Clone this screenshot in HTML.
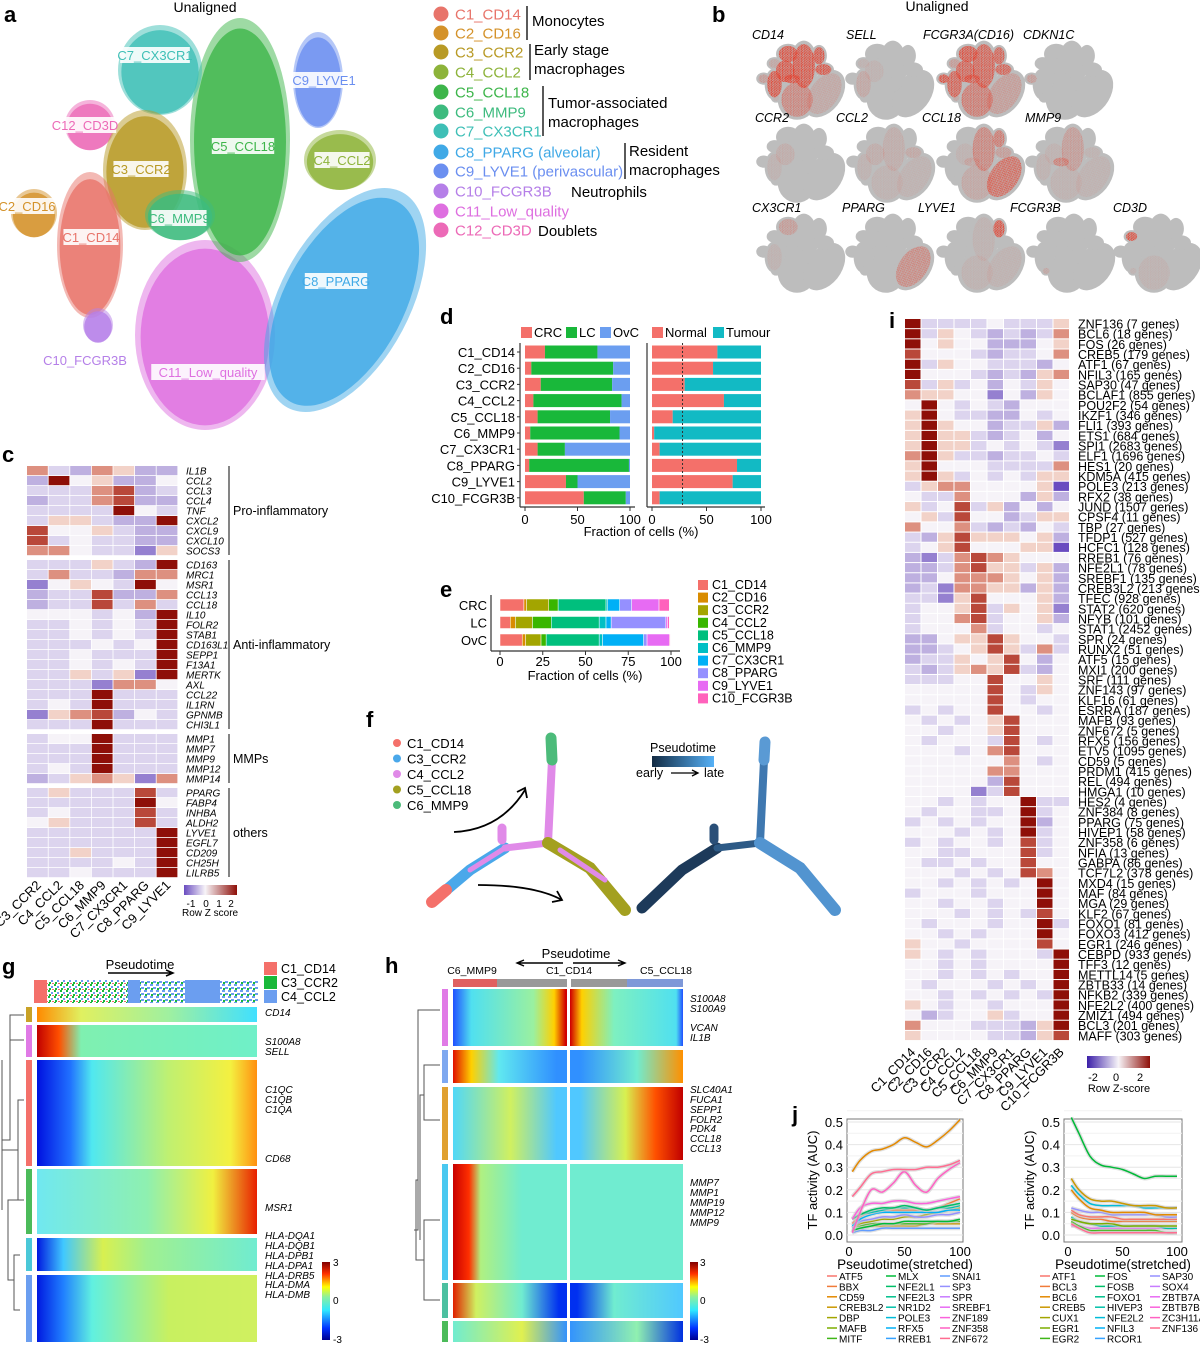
<!DOCTYPE html>
<html><head><meta charset="utf-8">
<style>
html,body{margin:0;padding:0;background:#fff;}
svg{display:block;font-family:"Liberation Sans",Arial,sans-serif;}
.it{font-style:italic;}
</style></head>
<body>
<svg id="fig" width="1200" height="1345" viewBox="0 0 1200 1345" xmlns="http://www.w3.org/2000/svg">
<defs>
<linearGradient id="ptime" x1="0" x2="1" y1="0" y2="0"><stop offset="0" stop-color="#132b43"/><stop offset="1" stop-color="#56b1f7"/></linearGradient>
<linearGradient id="jetv" x1="0" x2="0" y1="1" y2="0"><stop offset="0" stop-color="#00008f"/><stop offset="0.15" stop-color="#0030ff"/><stop offset="0.38" stop-color="#2ee8ff"/><stop offset="0.55" stop-color="#8af0a0"/><stop offset="0.68" stop-color="#ffff00"/><stop offset="0.85" stop-color="#ff3000"/><stop offset="1" stop-color="#800000"/></linearGradient>
<linearGradient id="zbar" x1="0" x2="1"><stop offset="0" stop-color="#3b1fa8"/><stop offset="0.5" stop-color="#f7f4f8"/><stop offset="1" stop-color="#8e0f08"/></linearGradient>
<linearGradient id="zbarc" x1="0" x2="1"><stop offset="0" stop-color="#6a4cc0"/><stop offset="0.4" stop-color="#f7f4f8"/><stop offset="1" stop-color="#8e0f08"/></linearGradient>
<linearGradient id="g1"><stop offset="0" stop-color="#ff8a00"/><stop offset="0.2" stop-color="#e0f060"/><stop offset="0.6" stop-color="#9ff0a0"/><stop offset="1" stop-color="#40e0ff"/></linearGradient>
<linearGradient id="g2"><stop offset="0" stop-color="#c00000"/><stop offset="0.1" stop-color="#ff5000"/><stop offset="0.2" stop-color="#7ff0b0"/><stop offset="1" stop-color="#6ff0c8"/></linearGradient>
<linearGradient id="g3"><stop offset="0" stop-color="#0010e0"/><stop offset="0.15" stop-color="#2070ff"/><stop offset="0.25" stop-color="#50e8f0"/><stop offset="0.6" stop-color="#c0f070"/><stop offset="0.88" stop-color="#f4f040"/><stop offset="1" stop-color="#ff9010"/></linearGradient>
<linearGradient id="g4"><stop offset="0" stop-color="#70e8f0"/><stop offset="0.5" stop-color="#8ef0b0"/><stop offset="0.8" stop-color="#f0f040"/><stop offset="1" stop-color="#e82000"/></linearGradient>
<linearGradient id="g5"><stop offset="0" stop-color="#0018e0"/><stop offset="0.12" stop-color="#40c8ff"/><stop offset="0.3" stop-color="#d8f050"/><stop offset="0.5" stop-color="#a0f090"/><stop offset="1" stop-color="#70ecd0"/></linearGradient>
<linearGradient id="g6"><stop offset="0" stop-color="#0018e0"/><stop offset="0.12" stop-color="#2080ff"/><stop offset="0.25" stop-color="#60f0e0"/><stop offset="0.6" stop-color="#c8f060"/><stop offset="1" stop-color="#d0f060"/></linearGradient>
<linearGradient id="h1"><stop offset="0" stop-color="#2050ff"/><stop offset="0.08" stop-color="#50e0f0"/><stop offset="0.35" stop-color="#9af0a0"/><stop offset="0.44" stop-color="#ffd000"/><stop offset="0.49" stop-color="#d00000"/><stop offset="0.51" stop-color="#d00000"/><stop offset="0.56" stop-color="#ffd000"/><stop offset="0.7" stop-color="#7ef0c0"/><stop offset="0.97" stop-color="#50e0f0"/><stop offset="1" stop-color="#2050ff"/></linearGradient>
<linearGradient id="h2"><stop offset="0" stop-color="#e01000"/><stop offset="0.08" stop-color="#ffd000"/><stop offset="0.2" stop-color="#60e8f0"/><stop offset="0.45" stop-color="#3090ff"/><stop offset="0.55" stop-color="#3090ff"/><stop offset="0.8" stop-color="#70ecd0"/><stop offset="1" stop-color="#ff9000"/></linearGradient>
<linearGradient id="h3"><stop offset="0" stop-color="#50d8f8"/><stop offset="0.25" stop-color="#d0f060"/><stop offset="0.45" stop-color="#50c8ff"/><stop offset="0.55" stop-color="#50c8ff"/><stop offset="0.75" stop-color="#d8f050"/><stop offset="0.88" stop-color="#ff5000"/><stop offset="1" stop-color="#c00000"/></linearGradient>
<linearGradient id="h4"><stop offset="0" stop-color="#c80000"/><stop offset="0.07" stop-color="#ff3000"/><stop offset="0.12" stop-color="#b0f080"/><stop offset="0.3" stop-color="#70ecd0"/><stop offset="1" stop-color="#70ecd0"/></linearGradient>
<linearGradient id="h5"><stop offset="0" stop-color="#e02000"/><stop offset="0.1" stop-color="#d0f060"/><stop offset="0.3" stop-color="#70ecd0"/><stop offset="0.46" stop-color="#0030f0"/><stop offset="0.54" stop-color="#0030f0"/><stop offset="0.7" stop-color="#70ecd0"/><stop offset="1" stop-color="#50c8ff"/></linearGradient>
<linearGradient id="h6"><stop offset="0" stop-color="#70ecd0"/><stop offset="0.3" stop-color="#e0f050"/><stop offset="0.5" stop-color="#3090ff"/><stop offset="0.8" stop-color="#90f0b0"/><stop offset="1" stop-color="#0030e0"/></linearGradient>
<pattern id="speck" width="6" height="6" patternUnits="userSpaceOnUse"><rect width="6" height="6" fill="#fff"/><rect x="0" y="0" width="2" height="2" fill="#19b83a"/><rect x="3" y="2" width="2" height="2" fill="#6b9ef0"/><rect x="1" y="4" width="2" height="2" fill="#19b83a"/><rect x="4" y="5" width="2" height="1" fill="#f4706a"/></pattern>
<pattern id="speckb" width="6" height="6" patternUnits="userSpaceOnUse"><rect width="6" height="6" fill="#fff"/><rect x="0" y="0" width="3" height="2" fill="#6b9ef0"/><rect x="3" y="3" width="3" height="2" fill="#6b9ef0"/><rect x="1" y="4" width="2" height="2" fill="#19b83a"/></pattern>
<pattern id="redspeck" width="14" height="14" patternUnits="userSpaceOnUse"><circle cx="3" cy="3" r="3.2" fill="#e8321e"/><circle cx="10" cy="6" r="3" fill="#e8321e"/><circle cx="5" cy="11" r="3" fill="#e8321e"/><circle cx="12" cy="12" r="2.5" fill="#e8321e"/></pattern>
</defs>

<g font-weight="bold" font-size="22">
<text x="4" y="22">a</text><text x="712" y="22">b</text><text x="2" y="462">c</text><text x="440" y="324">d</text>
<text x="440" y="597">e</text><text x="366" y="727">f</text><text x="2" y="974">g</text><text x="385" y="973">h</text>
<text x="889" y="328">i</text><text x="792" y="1122">j</text>
</g>
<text x="205" y="12" font-size="14" text-anchor="middle">Unaligned</text>
<text x="937" y="11" font-size="14" text-anchor="middle">Unaligned</text>

<g id="pa"></g>
<g id="pal"></g>
<g id="pb"></g>
<g id="pc"></g>
<g id="pd"></g>
<g id="pe"></g>
<g id="pf"></g>
<g id="pg"></g>
<g id="ph"></g>
<g id="pi"></g>
<g id="pj"></g>
</svg>
<script>
const NS="http://www.w3.org/2000/svg";
function E(tag,attrs,parent,txt){const e=document.createElementNS(NS,tag);for(const k in attrs)e.setAttribute(k,attrs[k]);if(txt!==undefined)e.textContent=txt;parent.appendChild(e);return e;}
const $=id=>document.getElementById(id);

/* ---------- panel a ---------- */
const clusterNames=["C1_CD14","C2_CD16","C3_CCR2","C4_CCL2","C5_CCL18","C6_MMP9","C7_CX3CR1","C8_PPARG (alveolar)","C9_LYVE1 (perivascular)","C10_FCGR3B","C11_Low_quality","C12_CD3D"];
const clusterColors=["#e8746a","#d4922a","#b89a25","#8db33a","#3db54a","#3dbb7e","#3ebfb6","#40a9e6","#6b8ff0","#b57fe8","#de6fe0","#ec6ab7"];
const blobs=[[10,205,335,70,95,0],[7,345,300,65,122,28],[4,240,140,50,122,0],[6,160,70,42,45,0],[8,318,80,25,48,0],[11,90,125,25,25,0],[2,145,170,42,60,0],[3,340,160,36,30,0],[1,34,213,23,24,0],[0,90,245,33,73,0],[5,180,215,35,25,0],[9,98,325,15,17,0]];
const blobLabels=[[6,"C7_CX3CR1",155,55],[8,"C9_LYVE1",324,80],[11,"C12_CD3D",85,125],[4,"C5_CCL18",243,146],[3,"C4_CCL2",342,160],[2,"C3_CCR2",141,169],[1,"C2_CD16",27,206],[5,"C6_MMP9",179,218],[0,"C1_CD14",91,237],[7,"C8_PPARG",336,281],[9,"C10_FCGR3B",85,360],[10,"C11_Low_quality",208,372]];
(function(){
 const g=$("pa");
 blobs.forEach(b=>{
  const c=clusterColors[b[0]];
  let e=E("ellipse",{cx:b[1],cy:b[2],rx:b[3],ry:b[4],fill:c,"fill-opacity":0.5,transform:`rotate(${b[5]} ${b[1]} ${b[2]})`},g);
  
  
  let d=E("ellipse",{cx:b[1],cy:b[2]+2,rx:b[3]*0.92,ry:b[4]*0.93,fill:c,"fill-opacity":0.8,transform:`rotate(${b[5]} ${b[1]} ${b[2]})`},g);
  
  
 });
 blobLabels.forEach(l=>{
  const w=l[1].length*7.3+4;
  let r=E("rect",{x:l[2]-w/2,y:l[3]-8,width:w,height:16,fill:"#fff","fill-opacity":0.9},g);
  
  
  let t=E("text",{x:l[2],y:l[3]+5,"font-size":13,"text-anchor":"middle",fill:clusterColors[l[0]]},g,l[1]);
  
  
 });
 const lg=$("pal");
 const ys=[14,33,52,72,92,112,131,152,171,191,211,230];
 clusterNames.forEach((n,i)=>{
  let c=E("circle",{cx:441,cy:ys[i],r:7.5,fill:clusterColors[i]},lg);
  
  
  let t=E("text",{x:455,y:ys[i]+5.5,"font-size":15,fill:clusterColors[i]},lg,n);
  
  
 });
 const brackets=[[527,6,40,[["Monocytes",532,26]]],[530,44,80,[["Early stage",534,55],["macrophages",534,74]]],[543,86,136,[["Tumor-associated",548,108],["macrophages",548,127]]],[625,143,179,[["Resident",629,156],["macrophages",629,175]]]];
 brackets.forEach(b=>{
  let l=E("line",{x1:b[0],x2:b[0],y1:b[1],y2:b[2],stroke:"#000","stroke-width":1.3},lg);
  
  
  b[3].forEach(s=>{let t=E("text",{x:s[1],y:s[2],"font-size":15},lg,s[0]);});
 });
 let t1=E("text",{x:571,y:197,"font-size":15},lg,"Neutrophils");
 let t2=E("text",{x:538,y:236,"font-size":15},lg,"Doublets");
})();

/* ---------- panel b ---------- */
const featGenes=["CD14","SELL","FCGR3A(CD16)","CDKN1C","CCR2","CCL2","CCL18","MMP9","CX3CR1","PPARG","LYVE1","FCGR3B","CD3D"];
const featPos=[[755,40],[844,40],[935,40],[1023,40],[755,123],[845,123],[935,123],[1024,123],[755,213],[844,213],[935,213],[1025,213],[1112,213]];
const featLabelX=[752,846,923,1023,755,836,922,1025,752,842,918,1010,1113];
const featExpr=[
 [0.9,0.3,0.9,0.9,0.9,0.9,0.9,0.2,0.9,0.1,0.5,0.2],
 [0.2,0,0.1,0,0,0,0,0,0,0,0,0.1],
 [0.8,1,0.8,0.8,0.8,0.8,0.9,0.3,0.8,0.2,0.6,0.3],
 [0,0.3,0,0,0,0,0,0,0,0,0,0],
 [0.1,0,0.15,0,0,0,0,0,0,0,0,0],
 [0.1,0,0.15,0.2,0.15,0,0,0.1,0,0,0.1,0],
 [0,0,0.1,0.3,0.5,0.2,0,0.7,0.6,0,0.2,0],
 [0.1,0,0.1,0.1,0.3,0.5,0,0.1,0,0,0.1,0],
 [0.1,0,0,0,0,0,0.3,0,0,0,0,0],
 [0,0,0,0,0,0,0,0.45,0,0,0,0],
 [0,0,0,0,0.1,0,0,0.1,1,0,0.1,0],
 [0,0,0,0,0,0,0,0,0,0.2,0,0],
 [0,0,0,0,0,0,0,0,0,0.1,0.1,0.9]];
(function(){
 const g=$("pb");
 featGenes.forEach((gn,k)=>{
  const [bx,by]=featPos[k];
  const sg=E("g",{transform:`translate(${bx+2} ${by+2}) scale(0.195 0.172)`},g);
  
  
  blobs.forEach(b=>{
   let e=E("ellipse",{cx:b[1],cy:b[2],rx:b[3]*1.3+8,ry:b[4]*1.15+8,fill:"#bdbdbd",transform:`rotate(${b[5]} ${b[1]} ${b[2]})`},sg);
   
   
  });
  blobs.forEach(b=>{
   const v=featExpr[k][b[0]]; if(!v)return;
   let e=E("ellipse",{cx:b[1],cy:b[2],rx:b[3]*1.15,ry:b[4]*1.05,fill:"url(#redspeck)","fill-opacity":Math.min(1,v*1.1),transform:`rotate(${b[5]} ${b[1]} ${b[2]})`},sg);
   
   
  });
  let t=E("text",{x:featLabelX[k],y:featPos[k][1]-1,"font-size":12.5,class:"it"},g,gn);
  
  
 });
})();

const zpal=["#6a4cc0","#9580d0","#beb0e0","#dcd4ee","#f6f3f8","#f2d2c8","#dd9080","#b9483a","#8e0f08"];

/* ---------- panel c ---------- */
const cCols=["C3_CCR2","C4_CCL2","C5_CCL18","C6_MMP9","C7_CX3CR1","C8_PPARG","C9_LYVE1"];
const cGroups=["Pro-inflammatory","Anti-inflammatory","MMPs","others"];
const cGenes=[["IL1B","CCL2","CCL3","CCL4","TNF","CXCL2","CXCL9","CXCL10","SOCS3"],
 ["CD163","MRC1","MSR1","CCL13","CCL18","IL10","FOLR2","STAB1","CD163L1","SEPP1","F13A1","MERTK","AXL","CCL22","IL1RN","GPNMB","CHI3L1"],
 ["MMP1","MMP7","MMP9","MMP12","MMP14"],
 ["PPARG","FABP4","INHBA","ALDH2","LYVE1","EGFL7","CD209","CH25H","LILRB5"]];
const cVals=[["6326522","2845224","3336723","2336722","3333843","3553228","7445322","7343322","6643315"],
 ["3335328","3633266","1454384","2337226","2337363","4443428","3343438","3343438","3334348","3343338","3343438","3353518","3331664","3338333","3438333","1567243","3338333"],
 ["3448333","3338333","3338333","3438333","2356516"],
 ["3533373","3333384","3433373","4533373","3333338","3333338","3353338","3333438","3343338"]];
(function(){
 const g=$("pc");
 const x0=27,cw=21.6,rh=10;
 const gy=[466,560,734,788];
 cGroups.forEach((gr,gi)=>{
  cGenes[gi].forEach((gn,ri)=>{
   const y=gy[gi]+ri*rh;
   for(let ci=0;ci<cCols.length;ci++){
    const v=+cVals[gi][ri][ci];
    let r=E("rect",{x:x0+ci*cw,y:y,width:cw-0.8,height:rh-0.8,fill:zpal[v]},g);
    
    
   }
   let t=E("text",{x:186,y:y+8.5,"font-size":10,class:"it"},g,gn);
   
   
  });
  const y1=gy[gi],y2=gy[gi]+cGenes[gi].length*rh;
  let l=E("line",{x1:229,x2:229,y1:y1,y2:y2-1,stroke:"#333","stroke-width":1.2},g);
  
  
  let t=E("text",{x:233,y:(y1+y2)/2+4,"font-size":12.5},g,gr);
  
  
 });
 cCols.forEach((c,ci)=>{
  const cx=x0+ci*cw+cw/2+4, cy=886;
  let t=E("text",{x:cx,y:cy,"font-size":13,"text-anchor":"end",transform:`rotate(-45 ${cx} ${cy})`},g,c);
  
  
 });
 let cb=E("rect",{x:184,y:885,width:53,height:10,fill:"url(#zbarc)"},g);
 
 
 [["-1",191],["0",206],["1",219],["2",231]].forEach(a=>{let t=E("text",{x:a[1],y:907,"font-size":10,"text-anchor":"middle"},g,a[0]);});
 let ct=E("text",{x:182,y:916,"font-size":10},g,"Row Z score");
 
 
})();

/* ---------- panel d ---------- */
const dCats=["C1_CD14","C2_CD16","C3_CCR2","C4_CCL2","C5_CCL18","C6_MMP9","C7_CX3CR1","C8_PPARG","C9_LYVE1","C10_FCGR3B"];
const dCRC=[19,6,15,8,12,5,12,4,39,56];
const dLC=[50,78,68,84,69,85,26,95,11,40];
const dOvC=[31,16,17,8,19,10,62,1,50,4];
const dNormal=[60,56,30,66,19,2,7,78,74,7];
const dTicks=[0,50,100];
(function(){
 const g=$("pd");
 const xL=v=>525+v*1.05, xR=v=>652+v*1.09, yC=i=>352+i*16.2;
 dCats.forEach((c,i)=>{
  const y=yC(i)-6.5;
  let acc=0;
  [[dCRC,"#f4706a"],[dLC,"#19b83a"],[dOvC,"#6b9ef0"]].forEach(s=>{
   let r=E("rect",{x:xL(acc),y:y,width:xL(acc+s[0][i])-xL(acc),height:13,fill:s[1]},g);
   
   
   acc+=s[0][i];
  });
  let r1=E("rect",{x:xR(0),y:y,width:xR(dNormal[i])-xR(0),height:13,fill:"#f4706a"},g);
  
  
  let r2=E("rect",{x:xR(dNormal[i]),y:y,width:xR(100)-xR(dNormal[i]),height:13,fill:"#12bac4"},g);
  
  
  let t=E("text",{x:515,y:yC(i)+5,"font-size":13,"text-anchor":"end"},g,c);
  
  
  let tk=E("line",{x1:517,x2:520,y1:yC(i),y2:yC(i),stroke:"#333"},g);
  
  
 });
 let dl=E("line",{x1:xR(28),x2:xR(28),y1:343,y2:506,stroke:"#333","stroke-dasharray":"2,2"},g);
 
 
 [[520,343,520,507],[520,507,635,507],[647,507,765,507],[647,343,647,507]].forEach(a=>{let l=E("line",{x1:a[0],y1:a[1],x2:a[2],y2:a[3],stroke:"#333","stroke-width":1.2},g);});
 dTicks.forEach(v=>{
  [xL(v),xR(v)].forEach(x=>{
   let l=E("line",{x1:x,x2:x,y1:507,y2:511,stroke:"#333"},g);
   let t=E("text",{x:x,y:524,"font-size":13,"text-anchor":"middle"},g,String(v));
  });
 });
 let xt=E("text",{x:641,y:536,"font-size":13,"text-anchor":"middle"},g,"Fraction of cells (%)");
 
 
 [["CRC","#f4706a",521],["LC","#19b83a",566],["OvC","#6b9ef0",600],["Normal","#f4706a",652],["Tumour","#12bac4",713]].forEach(a=>{
  let r=E("rect",{x:a[2],y:327,width:11,height:11,fill:a[1]},g);
  let t=E("text",{x:a[2]+13,y:337,"font-size":13},g,a[0]);
 });
})();

/* ---------- panel e ---------- */
const eCats=["CRC","LC","OvC"];
const eClusters=["C1_CD14","C2_CD16","C3_CCR2","C4_CCL2","C5_CCL18","C6_MMP9","C7_CX3CR1","C8_PPARG","C9_LYVE1","C10_FCGR3B"];
const eCRC=[14,1.5,13,5.5,28,1,7,7,16,6];
const eLC=[6,3,10,11,28,4,3,32,1,1];
const eOvC=[13,2,9,3,31,2,24,2,13,0.5];
const eTicks=[0,25,50,75,100];
const eColors=["#f4706a","#d98c00","#a3a500","#39b600","#00bf7d","#00bfc4","#00b0f6","#9590ff","#e76bf3","#ff62bc"];
(function(){
 const g=$("pe");
 const x=v=>500+v*1.71, yC=i=>605+i*17.5;
 [eCRC,eLC,eOvC].forEach((row,i)=>{
  let acc=0;
  row.forEach((v,k)=>{
   let r=E("rect",{x:x(acc),y:yC(i)-6,width:x(acc+v)-x(acc),height:12,fill:eColors[k],stroke:"#fff","stroke-width":0.5},g);
   
   
   acc+=v;
  });
  let t=E("text",{x:487,y:yC(i)+5,"font-size":13,"text-anchor":"end"},g,eCats[i]);
  
  
 });
 [[491,595,491,651],[491,651,680,651]].forEach(a=>{let l=E("line",{x1:a[0],y1:a[1],x2:a[2],y2:a[3],stroke:"#333","stroke-width":1.2},g);});
 eTicks.forEach(v=>{
  let l=E("line",{x1:x(v),x2:x(v),y1:651,y2:655,stroke:"#333"},g);
  let t=E("text",{x:x(v),y:666,"font-size":13,"text-anchor":"middle"},g,String(v));
 });
 let xt=E("text",{x:585,y:680,"font-size":13,"text-anchor":"middle"},g,"Fraction of cells (%)");
 
 
 eClusters.forEach((c,k)=>{
  let r=E("rect",{x:698,y:580+k*12.6,width:10,height:10,fill:eColors[k]},g);
  let t=E("text",{x:712,y:589+k*12.6,"font-size":12.5},g,c);
 });
})();

/* ---------- panel f ---------- */
(function(){
 const g=$("pf");
 const legend=[["C1_CD14","#f4706a"],["C3_CCR2","#4aa8ea"],["C4_CCL2","#e08ae8"],["C5_CCL18","#a3a020"],["C6_MMP9","#4cbb7a"]];
 legend.forEach((a,i)=>{
  let c=E("circle",{cx:397,cy:743+i*15.5,r:4,fill:a[1]},g);
  let t=E("text",{x:407,y:748+i*15.5,"font-size":13},g,a[0]);
 });
 const segs=[["M432 902 L470 870 L505 848","#4aa8ea",11],["M432 902 L446 890","#f4706a",12],["M470 870 L505 848","#e08ae8",5],["M505 848 L548 843","#e08ae8",7],["M548 843 L552 760","#e08ae8",8],["M552 760 L551 738","#4cbb7a",11],["M548 843 L590 868 L625 910","#a3a020",12],["M560 850 L605 880","#e08ae8",5],["M502 840 L502 828","#e08ae8",9]];
 segs.forEach(s=>{let p=E("path",{d:s[0],stroke:s[1],"stroke-width":s[2],fill:"none","stroke-linecap":"round"},g);});
 const segs2=[["M642 908 L682 870 L717 848","#1d3a5a",11],["M717 848 L760 843","#2d5a86",7],["M760 843 L764 760","#3f78b0",8],["M764 760 L765 742","#5a9ad4",11],["M760 843 L800 868 L835 910","#5294d0",12],["M714 840 L714 828","#2a4f78",9]];
 segs2.forEach(s=>{let p=E("path",{d:s[0],stroke:s[1],"stroke-width":s[2],fill:"none","stroke-linecap":"round"},g);});
 [["M454 832 Q500 830 525 790","M517 792 L525 788 L527 798"],["M478 885 Q535 885 562 900","M552 902 L562 900 L557 891"]].forEach(a=>{
  let p=E("path",{d:a[0],stroke:"#000","stroke-width":1.8,fill:"none"},g);
  let h=E("path",{d:a[1],stroke:"#000","stroke-width":1.8,fill:"none"},g);
 });
 let pt=E("text",{x:683,y:752,"font-size":12.5,"text-anchor":"middle"},g,"Pseudotime");
 let cb=E("rect",{x:652,y:756,width:62,height:11,fill:"url(#ptime)"},g);
 let e1=E("text",{x:636,y:777,"font-size":12.5},g,"early");
 let e2=E("text",{x:704,y:777,"font-size":12.5},g,"late");
 let ar=E("path",{d:"M671 773 L697 773 M692 770 L698 773 L692 776",stroke:"#000","stroke-width":1.3,fill:"none"},g);
})();

/* ---------- panel g ---------- */
const gBands=[["g1",1007,1022,"#c9a227"],["g2",1025,1057,"#e07ae6"],["g3",1060,1166,"#f4706a"],["g4",1169,1234,"#4cbb5a"],["g5",1238,1271,"#4ac8d8"],["g6",1275,1342,"#6b9ef0"]];
const gGenes=[["CD14",1012],["S100A8",1041],["SELL",1051],["C1QC",1089],["C1QB",1099],["C1QA",1109],["CD68",1158],["MSR1",1207],["HLA-DQA1",1235],["HLA-DQB1",1245],["HLA-DPB1",1255],["HLA-DPA1",1265],["HLA-DRB5",1275],["HLA-DMA",1284],["HLA-DMB",1294]];
(function(){
 const g=$("pg");
 let a1=E("rect",{x:34,y:980,width:13,height:23,fill:"#f4706a"},g);
 let a2=E("rect",{x:47,y:980,width:80,height:23,fill:"url(#speck)"},g);
 let a3=E("rect",{x:127,y:980,width:131,height:23,fill:"url(#speckb)"},g);
 let a4=E("rect",{x:128,y:980,width:12,height:23,fill:"#6b9ef0"},g);
 let a5=E("rect",{x:185,y:980,width:35,height:23,fill:"#6b9ef0"},g);
 let pt=E("text",{x:140,y:969,"font-size":13,"text-anchor":"middle"},g,"Pseudotime");
 let pa=E("path",{d:"M108 973 L172 973 M166 970 L173 973 L166 976",stroke:"#000","stroke-width":1.5,fill:"none"},g);
 [["C1_CD14","#f4706a",962],["C3_CCR2","#19b83a",976],["C4_CCL2","#6b9ef0",990]].forEach(a=>{
  let r=E("rect",{x:264,y:a[2],width:13,height:13,fill:a[1]},g);
  let t=E("text",{x:281,y:a[2]+11,"font-size":12.5},g,a[0]);
 });
 gBands.forEach(b=>{
  let r=E("rect",{x:37,y:b[1],width:220,height:b[2]-b[1],fill:`url(#${b[0]})`},g);
  let s=E("rect",{x:26,y:b[1],width:6,height:b[2]-b[1],fill:b[3]},g);
 });
 let dg=E("path",{d:"M24 1015 H10 V1140 H2 V1140 M10 1040 H24 M2 1140 V1140 M24 1100 H18 V1200 H24 M18 1150 H2 M2 1060 V1210 M20 1255 H14 V1310 H20 M14 1280 H8 V1200 H18 M8 1200",stroke:"#555","stroke-width":1,fill:"none"},g);
 
 gGenes.forEach(a=>{
  let t=E("text",{x:265,y:a[1]+4,"font-size":10,class:"it"},g,a[0]);
 });
 let cb=E("rect",{x:322,y:1262,width:8,height:78,fill:"url(#jetv)"},g);
 [["3",1266],["0",1304],["-3",1343]].forEach(a=>{let t=E("text",{x:333,y:a[1],"font-size":10},g,a[0]);});
})();

/* ---------- panel h ---------- */
const hBands=[["h1",989,1046,"#e07ae6"],["h2",1050,1083,"#7ea8f0"],["h3",1087,1160,"#e0a030"],["h4",1164,1280,"#4ac8f0"],["h5",1283,1318,"#4cc0a0"],["h6",1321,1342,"#4cbb5a"]];
const hGenes=[["S100A8",998],["S100A9",1008],["VCAN",1027],["IL1B",1037],["SLC40A1",1089],["FUCA1",1099],["SEPP1",1109],["FOLR2",1119],["PDK4",1128],["CCL18",1138],["CCL13",1148],["MMP7",1182],["MMP1",1192],["MMP19",1202],["MMP12",1212],["MMP9",1222]];
(function(){
 const g=$("ph");
 let pt=E("text",{x:576,y:958,"font-size":13,"text-anchor":"middle"},g,"Pseudotime");
 let pa=E("path",{d:"M517 963 L563 963 M524 960 L517 963 L524 966 M573 963 L625 963 M618 960 L625 963 L618 966",stroke:"#000","stroke-width":1.4,fill:"none"},g);
 [["C6_MMP9",472],["C1_CD14",569],["C5_CCL18",666]].forEach(a=>{let t=E("text",{x:a[1],y:974,"font-size":10.5,"text-anchor":"middle"},g,a[0]);});
 [[453,44,"#e06060"],[497,70,"#999"],[571,56,"#999"],[627,56,"#7e98d8"]].forEach(a=>{let r=E("rect",{x:a[0],y:979,width:a[1],height:8,fill:a[2]},g);});
 hBands.forEach(b=>{
  let r=E("rect",{x:453,y:b[1],width:230,height:b[2]-b[1],fill:`url(#${b[0]})`},g);
  let s=E("rect",{x:442,y:b[1],width:6,height:b[2]-b[1],fill:b[3]},g);
 });
 let vl=E("rect",{x:567,y:989,width:3,height:353,fill:"#fff"},g);
 let dg=E("path",{d:"M440 1010 H418 V1230 H414 M440 1065 H424 V1120 H440 M424 1095 H420 V1240 M440 1220 H424 V1300 H440 M424 1260 H416 V1180 H418",stroke:"#555","stroke-width":1,fill:"none"},g);
 
 hGenes.forEach(a=>{
  let t=E("text",{x:690,y:a[1]+4,"font-size":10,class:"it"},g,a[0]);
 });
 let cb=E("rect",{x:690,y:1262,width:8,height:78,fill:"url(#jetv)"},g);
 [["3",1266],["0",1304],["-3",1343]].forEach(a=>{let t=E("text",{x:700,y:a[1],"font-size":10},g,a[0]);});
})();

/* ---------- panel i ---------- */
const iCols=["C1_CD14","C2_CD16","C3_CCR2","C4_CCL2","C5_CCL18","C6_MMP9","C7_CX3CR1","C8_PPARG","C9_LYVE1","C10_FCGR3B"];
const iRows=["ZNF136 (7 genes)","BCL6 (18 genes)","FOS (26 genes)","CREB5 (179 genes)","ATF1 (67 genes)","NFIL3 (165 genes)","SAP30 (47 genes)","BCLAF1 (855 genes)","POU2F2 (54 genes)","IKZF1 (346 genes)","FLI1 (393 genes)","ETS1 (684 genes)","SPI1 (2683 genes)","ELF1 (1696 genes)","HES1 (20 genes)","KDM5A (415 genes)","POLE3 (213 genes)","RFX2 (38 genes)","JUND (1507 genes)","CPSF4 (11 genes)","TBP (27 genes)","TFDP1 (527 genes)","HCFC1 (128 genes)","RREB1 (76 genes)","NFE2L1 (78 genes)","SREBF1 (135 genes)","CREB3L2 (213 genes)","TFEC (928 genes)","STAT2 (620 genes)","NFYB (101 genes)","STAT1 (2452 genes)","SPR (24 genes)","RUNX2 (51 genes)","ATF5 (15 genes)","MXI1 (200 genes)","SRF (111 genes)","ZNF143 (97 genes)","KLF16 (61 genes)","ESRRA (187 genes)","MAFB (93 genes)","ZNF672 (5 genes)","RFX5 (156 genes)","ETV5 (1095 genes)","CD59 (5 genes)","PRDM1 (415 genes)","REL (494 genes)","HMGA1 (10 genes)","HES2 (4 genes)","ZNF384 (8 genes)","PPARG (75 genes)","HIVEP1 (58 genes)","ZNF358 (6 genes)","NFIA (13 genes)","GABPA (86 genes)","TCF7L2 (378 genes)","MXD4 (15 genes)","MAF (84 genes)","MGA (29 genes)","KLF2 (67 genes)","FOXO1 (81 genes)","FOXO3 (412 genes)","EGR1 (246 genes)","CEBPD (933 genes)","TFF3 (12 genes)","METTL14 (5 genes)","ZBTB33 (14 genes)","NFKB2 (339 genes)","NFE2L2 (400 genes)","ZMIZ1 (494 genes)","BCL3 (201 genes)","MAFF (303 genes)"];
const iVals=["8333343335","8354323236","8454422245","7444323346","8354433324","8444323256","7353424354","6554414254",
"4843432444","5843322434","5854423352","5855323424","5855343431","6853323343","5844433336","5853434355","3566444450",
"4336444252","5347352424","4537442355","6446323243","3257555452","3457444550","2136765444","2236755352","2246665452","2316655252","3315744452","3445735451","3446734452","3444634434","2245575443","2234575363","2335457424","3235657324","3334474454","4444474354","4444474344","3434474434",
"4343457444","4434457444","4344437434","4443467444","4444446434","4444466444","4444427444","4444137444",
"4434344833","4344334834","3434344824","4443434834","3434434734","4433444734","4334344744","4443434764",
"4434343484","3444344484","4434434484","4443434374","4344434483","4434344484","5443444474",
"5434344438","4434344448","4434343448","4344434348","4434343438","5434434448","4234453448","6444333258","5444433257"];
(function(){
 const g=$("pi");
 const x0=905,cw=16.5,y0=319,rh=10.17;
 iRows.forEach((rn,ri)=>{
  for(let ci=0;ci<iCols.length;ci++){
   const v=+iVals[ri][ci];
   let r=E("rect",{x:x0+ci*cw,y:y0+ri*rh,width:cw-1,height:rh-1,fill:zpal[v]},g);
   
   
  }
  let t=E("text",{x:1078,y:y0+ri*rh+9.5,"font-size":12.5},g,rn);
  
  
 });
 iCols.forEach((c,ci)=>{
  const cx=x0+ci*cw+cw/2+3, cy=1053;
  let t=E("text",{x:cx,y:cy,"font-size":13,"text-anchor":"end",transform:`rotate(-45 ${cx} ${cy})`},g,c);
  
  
 });
 let cb=E("rect",{x:1087,y:1056,width:63,height:12,fill:"url(#zbar)"},g);
 [["-2",1093],["0",1116],["2",1140]].forEach(a=>{let t=E("text",{x:a[1],y:1081,"font-size":11,"text-anchor":"middle"},g,a[0]);});
 let ct=E("text",{x:1119,y:1092,"font-size":11,"text-anchor":"middle"},g,"Row Z-score");
})();

/* ---------- panel j ---------- */
const jX=[0,10,20,30,40,50,60,70,80,90,100];
const jYTicks=[0,0.1,0.2,0.3,0.4,0.5];
const jXTicks=[0,50,100];
const jLeftNames=["ATF5","BBX","CD59","CREB3L2","DBP","MAFB","MITF","MLX","NFE2L1","NFE2L3","NR1D2","POLE3","RFX5","RREB1","SNAI1","SP3","SPR","SREBF1","ZNF189","ZNF358","ZNF672"];
const jLeftColors=["#f8766d","#f07b3a","#e38900","#c99800","#a3a500","#7cae00","#3fb618","#00ba38","#00be67","#00c08b","#00c1a9","#00bcd8","#00b0f6","#35a2ff","#619cff","#9590ff","#c77cff","#e76bf3","#fa62db","#ff61c3","#ff6c91"];
const jLeftCD59=[0.28,0.33,0.37,0.38,0.40,0.43,0.41,0.39,0.42,0.46,0.51];
const jLeftZNF672=[0.17,0.21,0.27,0.28,0.29,0.29,0.29,0.30,0.30,0.31,0.33];
const jLeftZNF358=[0.01,0.10,0.20,0.19,0.23,0.28,0.22,0.19,0.25,0.29,0.32];
const jLeftZNF189=[0.07,0.12,0.14,0.14,0.15,0.15,0.14,0.14,0.15,0.16,0.17];
const jLeftNFE2L1=[0.07,0.09,0.11,0.12,0.12,0.13,0.12,0.11,0.12,0.13,0.14];
const jLeftNR1D2=[0.07,0.09,0.10,0.11,0.12,0.12,0.12,0.11,0.12,0.12,0.13];
const jLeftRFX5=[0.04,0.07,0.09,0.10,0.10,0.10,0.10,0.10,0.10,0.11,0.11];
const jLeftBBX=[0.05,0.08,0.10,0.11,0.11,0.11,0.11,0.11,0.12,0.14,0.16];
const jLeftSP3=[0.03,0.06,0.07,0.08,0.08,0.09,0.08,0.08,0.09,0.09,0.10];
const jLeftDBP=[0.03,0.05,0.06,0.07,0.07,0.08,0.08,0.09,0.10,0.11,0.12];
const jLeftMLX=[0.02,0.03,0.04,0.05,0.05,0.06,0.06,0.06,0.06,0.06,0.07];
const jLeftMITF=[0.03,0.04,0.05,0.05,0.05,0.05,0.05,0.05,0.06,0.06,0.06];
const jLeftSNAI1=[0.01,0.02,0.02,0.03,0.03,0.03,0.03,0.03,0.03,0.03,0.03];
const jLeftCREB3L2=[0.02,0.03,0.04,0.04,0.04,0.04,0.04,0.05,0.05,0.05,0.05];
const jRightNames=["ATF1","BCL3","BCL6","CREB5","CUX1","EGR1","EGR2","FOS","FOSB","FOXO1","HIVEP3","NFE2L2","NFIL3","RCOR1","SAP30","SOX4","ZBTB7A","ZBTB7B","ZC3H11A","ZNF136"];
const jRightColors=["#f8766d","#f07b3a","#e38900","#c99800","#a3a500","#7cae00","#3fb618","#00ba38","#00be67","#00c08b","#00c1a9","#00bcd8","#00b0f6","#35a2ff","#9590ff","#c77cff","#e76bf3","#fa62db","#ff61c3","#ff6c91"];
const jRightFOS=[0.52,0.45,0.35,0.31,0.30,0.29,0.27,0.25,0.26,0.26,0.26];
const jRightCREB5=[0.25,0.20,0.16,0.15,0.15,0.14,0.13,0.13,0.13,0.12,0.12];
const jRightNFE2L2=[0.22,0.18,0.14,0.13,0.13,0.13,0.13,0.12,0.12,0.12,0.12];
const jRightBCL6=[0.20,0.16,0.12,0.11,0.10,0.10,0.10,0.10,0.09,0.09,0.09];
const jRightSAP30=[0.12,0.11,0.10,0.10,0.09,0.09,0.09,0.09,0.09,0.08,0.08];
const jRightATF1=[0.11,0.09,0.08,0.08,0.08,0.07,0.07,0.07,0.07,0.07,0.07];
const jRightBCL3=[0.10,0.08,0.07,0.07,0.06,0.06,0.06,0.06,0.06,0.06,0.06];
const jRightEGR1=[0.07,0.06,0.05,0.05,0.05,0.04,0.04,0.04,0.04,0.04,0.04];
const jRightHIVEP3=[0.08,0.06,0.05,0.04,0.04,0.04,0.04,0.04,0.04,0.03,0.03];
const jRightZNF136=[0.05,0.03,0.01,0.01,0.01,0.01,0.01,0.01,0.01,0.01,0.01];
const jRightEGR2=[0.06,0.04,0.02,0.02,0.02,0.02,0.02,0.02,0.02,0.01,0.01];
const jRightZBTB7A=[0.04,0.04,0.03,0.03,0.03,0.03,0.03,0.03,0.03,0.03,0.03];
function smoothPath(pts){
 let d="M"+pts[0][0].toFixed(1)+" "+pts[0][1].toFixed(1);
 for(let i=0;i<pts.length-1;i++){
  const p0=pts[Math.max(i-1,0)],p1=pts[i],p2=pts[i+1],p3=pts[Math.min(i+2,pts.length-1)];
  const c1=[p1[0]+(p2[0]-p0[0])/6,p1[1]+(p2[1]-p0[1])/6],c2=[p2[0]-(p3[0]-p1[0])/6,p2[1]-(p3[1]-p1[1])/6];
  d+=` C${c1[0].toFixed(1)} ${c1[1].toFixed(1)} ${c2[0].toFixed(1)} ${c2[1].toFixed(1)} ${p2[0].toFixed(1)} ${p2[1].toFixed(1)}`;
 }
 return d;
}
(function(){
 const g=$("pj");
 function panel(px0,px100,boxL,boxR,series,names,colors,legendX,nameSuffix){
  const xs=v=>px0+(px100-px0)*v/100, ys=v=>1235-v*226;
  let bx=E("rect",{x:boxL,y:1119,width:boxR-boxL,height:123,fill:"#fff",stroke:"#777","stroke-width":1},g);
  
  jYTicks.forEach(v=>{
   let l=E("line",{x1:boxL,x2:boxR,y1:ys(v),y2:ys(v),stroke:"#e6e6e6"},g);
   let l2=E("line",{x1:boxL,x2:boxR,y1:ys(v+0.05),y2:ys(v+0.05),stroke:"#f2f2f2"},g);
   let t=E("text",{x:boxL-4,y:ys(v)+5,"font-size":13,"text-anchor":"end"},g,v.toFixed(1));
  });
  jXTicks.forEach(v=>{
   let t=E("text",{x:xs(v),y:1256,"font-size":13,"text-anchor":"middle"},g,String(v));
  });
  series.forEach(s=>{
   const d=smoothPath(jX.map((x,i)=>[xs(Math.max(x,3)),ys(s[0][i])]));
   let band=E("path",{d:d,stroke:"#ccc","stroke-width":4,fill:"none","stroke-opacity":0.6},g);
   let p=E("path",{d:d,stroke:s[1],"stroke-width":1.5,fill:"none","stroke-linejoin":"round"},g);
  });
  const cx=boxL-30, cy=1180;
  let yt=E("text",{x:cx,y:cy,"font-size":13,"text-anchor":"middle",transform:`rotate(-90 ${cx} ${cy})`},g,"TF activity (AUC)");
  let xt=E("text",{x:(boxL+boxR)/2,y:1269,"font-size":13.5,"text-anchor":"middle"},g,"Pseudotime(stretched)");
  names.forEach((n,k)=>{
   const col=Math.floor(k/7), row=k%7;
   const lx=legendX[col], ly=1276+row*10.4;
   let l=E("line",{x1:lx,x2:lx+10,y1:ly,y2:ly,stroke:colors[k],"stroke-width":1.5},g);
   let t=E("text",{x:lx+12,y:ly+4,"font-size":10},g,n);
  });
 }
 const L=jLeftColors, Lc=n=>L[jLeftNames.indexOf(n)];
 panel(849,960,847,963,[[jLeftCREB3L2,Lc("CREB3L2")],[jLeftSNAI1,Lc("SNAI1")],[jLeftMITF,Lc("MITF")],[jLeftMLX,Lc("MLX")],[jLeftDBP,Lc("DBP")],[jLeftSP3,Lc("SP3")],[jLeftBBX,Lc("BBX")],[jLeftRFX5,Lc("RFX5")],[jLeftNR1D2,Lc("NR1D2")],[jLeftNFE2L1,Lc("NFE2L1")],[jLeftZNF189,Lc("ZNF189")],[jLeftZNF358,Lc("ZNF358")],[jLeftZNF672,Lc("ZNF672")],[jLeftCD59,Lc("CD59")]],jLeftNames,jLeftColors,[827,886,940],"left");
 const R=jRightColors, Rc=n=>R[jRightNames.indexOf(n)];
 panel(1068,1177,1064,1182,[[jRightZBTB7A,Rc("ZBTB7A")],[jRightEGR2,Rc("EGR2")],[jRightZNF136,Rc("ZNF136")],[jRightHIVEP3,Rc("HIVEP3")],[jRightEGR1,Rc("EGR1")],[jRightBCL3,Rc("BCL3")],[jRightATF1,Rc("ATF1")],[jRightSAP30,Rc("SAP30")],[jRightBCL6,Rc("BCL6")],[jRightNFE2L2,Rc("NFE2L2")],[jRightCREB5,Rc("CREB5")],[jRightFOS,Rc("FOS")]],jRightNames,jRightColors,[1040,1095,1150],"right");
})();
</script>
</body></html>
